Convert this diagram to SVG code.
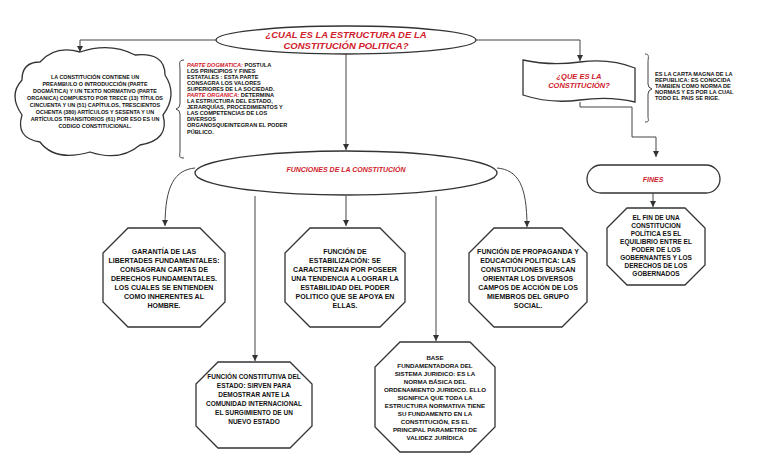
<svg xmlns="http://www.w3.org/2000/svg" width="768" height="458" viewBox="0 0 768 458">
<style>
.s{fill:#fff;stroke:#333;stroke-width:1.3}
.c{fill:none;stroke:#444;stroke-width:1}
.t{font-family:"Liberation Sans",Arial,sans-serif;font-weight:bold;fill:#111;text-anchor:middle}
.tl{font-family:"Liberation Sans",Arial,sans-serif;font-size:5.6px;font-weight:bold;fill:#111}
.r{fill:#d0202a;font-style:italic}
</style>
<defs><marker id="a" markerWidth="8" markerHeight="8" refX="6" refY="3" orient="auto" markerUnits="userSpaceOnUse"><path d="M0,0L6,3L0,6z" fill="#333"/></marker></defs>
<rect width="768" height="458" fill="#fff"/>
<g id="connectors">
<path class="c" d="M216,40H80V52" marker-end="url(#a)"/>
<path class="c" d="M346,54V150" marker-end="url(#a)"/>
<path class="c" d="M476,40H580V61" marker-end="url(#a)"/>
<path class="c" d="M580,102V107H632V137H656V157" marker-end="url(#a)"/>
<path class="c" d="M653,193V207" marker-end="url(#a)"/>
<path class="c" d="M195,168C175,170 165,185 165,226" marker-end="url(#a)"/>
<path class="c" d="M255,196V361" marker-end="url(#a)"/>
<path class="c" d="M346,196V226" marker-end="url(#a)"/>
<path class="c" d="M436,196V341" marker-end="url(#a)"/>
<path class="c" d="M497,168C518,170 527,185 527,227" marker-end="url(#a)"/>
<path class="c" d="M184,60C178,60 180,64 180,70V104Q180,108 176,109Q180,110 180,114V150C180,156 178,158 184,158"/>
<path class="c" d="M645,54C650,54 648,58 648,62V84Q648,88 652,89Q648,90 648,94V116C648,120 650,122 645,122"/>
</g>
<g id="top"><ellipse class="s" cx="346" cy="40" rx="130" ry="14"/>
<g class="t r" style="font-size:9.5px"><text x="346" y="38">¿CUAL ES LA ESTRUCTURA DE LA</text>
<text x="346" y="49">CONSTITUCIÓN POLITICA?</text></g></g>
<g id="cloud"><path class="s" d="M40,62Q55,45 80,52Q110,42 135,55Q165,52 165,75Q178,95 163,115Q170,140 140,145Q120,162 90,152Q55,162 40,142Q15,138 22,115Q8,95 22,80Q22,62 40,62z"/>
<g class="t" style="font-size:5.4px"><text x="95" y="79">LA CONSTITUCIÓN CONTIENE UN</text><text x="95" y="86">PREAMBULO O INTRODUCCIÓN (PARTE</text><text x="95" y="93">DOGMÁTICA) Y UN TEXTO NORMATIVO (PARTE</text><text x="95" y="100">ORGANICA) COMPUESTO POR TRECE (13) TÍTULOS</text><text x="95" y="107">CINCUENTA Y UN (51) CAPÍTULOS, TRESCIENTOS</text><text x="95" y="114">OCHENTA (380) ARTÍCULOS Y SESENTA Y UN</text><text x="95" y="121">ARTÍCULOS TRANSITORIOS (61) POR ESO ES UN</text><text x="95" y="128">CODIGO CONSTITUCIONAL.</text></g></g>
<g id="partes" class="tl"><text x="187" y="67"><tspan class="r">PARTE DOGMATICA:</tspan> POSTULA</text><text x="187" y="73">LOS PRINCIPIOS Y FINES</text><text x="187" y="79">ESTATALES : ESTA PARTE</text><text x="187" y="85">CONSAGRA LOS VALORES</text><text x="187" y="91">SUPERIORES DE LA SOCIEDAD.</text><text x="187" y="97"><tspan class="r">PARTE ORGANICA:</tspan> DETERMINA</text><text x="187" y="103">LA ESTRUCTURA DEL ESTADO,</text><text x="187" y="109">JERARQUÍAS, PROCEDIMIENTOS Y</text><text x="187" y="115">LAS COMPETENCIAS DE LOS</text><text x="187" y="121">DIVERSOS</text><text x="187" y="127">ORGANOSQUEINTEGRAN EL PODER</text><text x="187" y="134">PÚBLICO.</text></g>
<g id="que"><path class="s" d="M523,60Q550,66 580,62Q610,58 635,68V102Q610,96 580,100Q550,104 523,95z"/>
<g class="t r" style="font-size:7.5px"><text x="579" y="79">¿QUE ES LA</text><text x="579" y="88">CONSTITUCIÓN?</text></g></g>
<g id="def" class="tl"><text x="655" y="76">ES LA CARTA MAGNA DE LA</text><text x="655" y="82">REPUBLICA: ES CONOCIDA</text><text x="655" y="88">TAMBIEN COMO NORMA DE</text><text x="655" y="94">NORMAS Y ES POR LA CUAL</text><text x="655" y="100">TODO EL PAIS SE RIGE.</text></g>
<g id="funciones"><ellipse class="s" cx="346" cy="173" rx="151" ry="22"/><text class="t r" style="font-size:7px" x="346" y="172">FUNCIONES DE LA CONSTITUCIÓN</text></g>
<g id="fines"><rect class="s" x="587" y="165" width="133" height="28" rx="14"/><text class="t r" style="font-size:7px" x="653" y="182">FINES</text></g>
<g id="o1"><path class="s" d="M128,228H200L225,253V302L200,327H128L103,302V253z"/>
<g class="t" style="font-size:7px"><text x="164" y="254">GARANTÍA DE LAS</text><text x="164" y="263">LIBERTADES FUNDAMENTALES:</text><text x="164" y="272">CONSAGRAN CARTAS DE</text><text x="164" y="281">DERECHOS FUNDAMENTALES.</text><text x="164" y="290">LOS CUALES SE ENTIENDEN</text><text x="164" y="299">COMO INHERENTES AL</text><text x="164" y="308">HOMBRE.</text></g></g>
<g id="o2"><path class="s" d="M310,228H380L405,253V302L380,327H310L285,302V253z"/>
<g class="t" style="font-size:7px"><text x="345" y="254">FUNCIÓN DE</text><text x="345" y="263">ESTABILIZACIÓN: SE</text><text x="345" y="272">CARACTERIZAN POR POSEER</text><text x="345" y="281">UNA TENDENCIA A LOGRAR LA</text><text x="345" y="290">ESTABILIDAD DEL PODER</text><text x="345" y="299">POLITICO QUE SE APOYA EN</text><text x="345" y="308">ELLAS.</text></g></g>
<g id="o3"><path class="s" d="M494,228H562L587,253V302L562,327H494L469,302V253z"/>
<g class="t" style="font-size:7px"><text x="528" y="254">FUNCIÓN DE PROPAGANDA Y</text><text x="528" y="263">EDUCACIÓN POLITICA: LAS</text><text x="528" y="272">CONSTITUCIONES BUSCAN</text><text x="528" y="281">ORIENTAR LOS DIVERSOS</text><text x="528" y="290">CAMPOS DE ACCIÓN DE LOS</text><text x="528" y="299">MIEMBROS DEL GRUPO</text><text x="528" y="308">SOCIAL.</text></g></g>
<g id="o4"><path class="s" d="M627,208H685L705,228V265L685,285H627L607,265V228z"/>
<g class="t" style="font-size:6.5px"><text x="656" y="220">EL FIN DE UNA</text><text x="656" y="228">CONSTITUCION</text><text x="656" y="236">POLÍTICA ES EL</text><text x="656" y="244">EQUILIBRIO ENTRE EL</text><text x="656" y="252">PODER DE LOS</text><text x="656" y="260">GOBERNANTES Y LOS</text><text x="656" y="268">DERECHOS DE LOS</text><text x="656" y="276">GOBERNADOS</text></g></g>
<g id="o5"><path class="s" d="M218,362H290L312,384V426L290,448H218L196,426V384z"/>
<g class="t" style="font-size:6.5px"><text x="254" y="379">FUNCIÓN CONSTITUTIVA DEL</text><text x="254" y="388">ESTADO: SIRVEN PARA</text><text x="254" y="397">DEMOSTRAR ANTE LA</text><text x="254" y="406">COMUNIDAD INTERNACIONAL</text><text x="254" y="415">EL SURGIMIENTO DE UN</text><text x="254" y="424">NUEVO ESTADO</text></g></g>
<g id="o6"><path class="s" d="M400,342H470L495,367V427L470,452H400L375,427V367z"/>
<g class="t" style="font-size:6.2px"><text x="435" y="360">BASE</text><text x="435" y="368">FUNDAMENTADORA DEL</text><text x="435" y="376">SISTEMA JURIDICO: ES LA</text><text x="435" y="384">NORMA BÁSICA DEL</text><text x="435" y="392">ORDENAMIENTO JURIDICO. ELLO</text><text x="435" y="400">SIGNIFICA QUE TODA LA</text><text x="435" y="408">ESTRUCTURA NORMATIVA TIENE</text><text x="435" y="416">SU FUNDAMENTO EN LA</text><text x="435" y="424">CONSTITUCIÓN, ES EL</text><text x="435" y="432">PRINCIPAL PARAMETRO DE</text><text x="435" y="440">VALIDEZ JURÍDICA</text></g></g>
</svg>
